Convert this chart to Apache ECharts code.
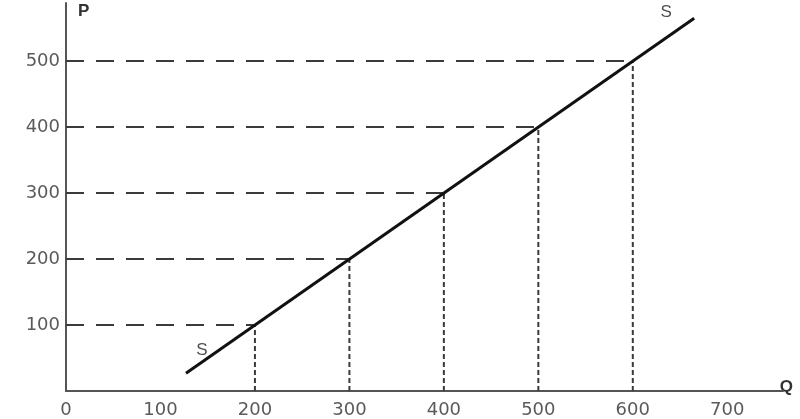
<!DOCTYPE html>
<html>
<head>
<meta charset="utf-8">
<script src="https://cdn.jsdelivr.net/npm/echarts@6/dist/echarts.min.js"></script>
<style>html,body{margin:0;padding:0;background:#fff}#c{width:800px;height:419px}</style>
</head>
<body>
<div id="c"></div>
<script>
// Supply curve data
const supplyQ = [127, 665];
const supplyP = [27, 565];
const pointQ = [200, 300, 400, 500, 600];
const pointP = [100, 200, 300, 400, 500];
const xTickLabels = ['0', '100', '200', '300', '400', '500', '600', '700'];
const yTickLabels = ['100', '200', '300', '400', '500'];
const curveLabel = 'S';

const chart = echarts.init(document.getElementById('c'), null, {renderer: 'canvas'});
const series = [];
pointQ.forEach((q, i) => {
  const p = pointP[i];
  series.push({
    type: 'line', silent: true, symbol: 'none', animation: false, z: 1,
    data: [[0, p], [q, p]],
    lineStyle: {color: '#3a3a3a', width: 2, type: [18, 12]}
  });
  series.push({
    type: 'line', silent: true, symbol: 'none', animation: false, z: 1,
    data: [[q, 0], [q, p]],
    lineStyle: {color: '#3a3a3a', width: 2, type: [5, 3]}
  });
});
series.push({
  type: 'line', silent: true, animation: false, z: 3,
  symbol: 'none',
  data: supplyQ.map((q, i) => [q, supplyP[i]]),
  lineStyle: {color: '#111', width: 3}
});
series.push({
  type: 'scatter', silent: true, animation: false, z: 4,
  symbol: 'circle', symbolSize: 2,
  itemStyle: {color: 'rgba(0,0,0,0)'},
  data: supplyQ.map((q, i) => ({
    value: [q, supplyP[i]],
    label: {
      show: true, formatter: curveLabel, position: 'inside',
      offset: i === 0 ? [16, -23] : [-28, -6],
      color: '#222', fontSize: 17, fontFamily: 'Liberation Sans, Arial, sans-serif'
    }
  }))
});

chart.setOption({
  animation: false,
  grid: {left: 66, right: 17, top: 3, bottom: 25, containLabel: false},
  xAxis: {
    type: 'value', min: 0, max: 759, interval: 100,
    name: 'Q', nameLocation: 'end', nameGap: 0,
    nameTextStyle: {color: '#333', fontSize: 17, fontWeight: 'bold', fontFamily: 'Liberation Sans, Arial, sans-serif', align: 'right', verticalAlign: 'bottom', padding: [0, -10, -5, 0]},
    axisLine: {lineStyle: {color: '#555', width: 2}},
    axisTick: {show: false},
    splitLine: {show: false},
    axisLabel: {
      color: '#5a5a5a', fontSize: 18, margin: 10,
      fontFamily: 'DejaVu Sans, sans-serif',
      showMaxLabel: false,
      formatter: v => xTickLabels[Math.round(v / 100)] || ''
    }
  },
  yAxis: {
    type: 'value', min: 0, max: 588, interval: 100,
    name: 'P', nameLocation: 'end', nameGap: 0,
    nameTextStyle: {color: '#333', fontSize: 17, fontWeight: 'bold', fontFamily: 'Liberation Sans, Arial, sans-serif', align: 'left', verticalAlign: 'top', padding: [0, 0, 0, 12]},
    axisLine: {lineStyle: {color: '#555', width: 2}},
    axisTick: {show: false},
    splitLine: {show: false},
    axisLabel: {
      color: '#5a5a5a', fontSize: 18, margin: 6,
      fontFamily: 'DejaVu Sans, sans-serif',
      showMinLabel: false, showMaxLabel: false,
      formatter: v => yTickLabels[Math.round(v / 100) - 1] || ''
    }
  },
  series: series
});
</script>
</body>
</html>
